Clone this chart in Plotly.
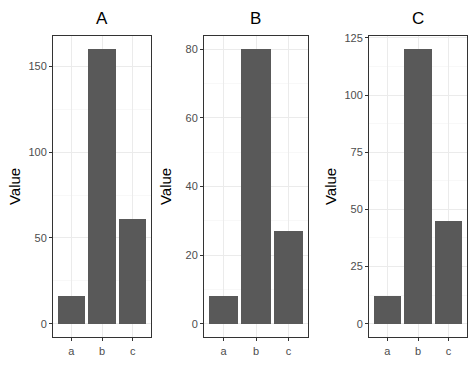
import plotly.graph_objects as go

categories = ["a", "b", "c"]
panels = ["A", "B", "C"]
values_A = [16, 160, 61]
values_B = [8, 80, 27]
values_C = [12, 120, 45]
series = [values_A, values_B, values_C]
y_dticks = [50, 20, 25]

W, H = 474, 379
x_px = [(53, 151), (204, 308), (369, 467)]
y_top, y_bot = 32, 337

def fx(px):
    return px / W

def fy(py):
    return 1 - py / H

fig = go.Figure()
font = "Liberation Sans, Arial, sans-serif"
for i, (name, vals) in enumerate(zip(panels, series)):
    n = "" if i == 0 else str(i + 1)
    fig.add_trace(go.Bar(x=categories, y=vals, width=0.9,
                         marker=dict(color="#595959", line=dict(width=0)),
                         xaxis="x" + n, yaxis="y" + n, showlegend=False))
    vmax = max(vals)
    pad = vmax * 0.05
    x0, x1 = x_px[i]
    fig.update_layout(**{
        "xaxis" + n: dict(domain=[fx(x0), fx(x1)], anchor="y" + n,
                          range=[-0.6, 2.6], type="category",
                          showline=True, mirror=True, linecolor="#333333", linewidth=1,
                          ticks="outside", ticklen=3, tickcolor="#333333",
                          tickfont=dict(size=11, color="#4d4d4d", family=font),
                          showgrid=True, gridcolor="#ebebeb", gridwidth=1,
                          zeroline=False, fixedrange=True),
        "yaxis" + n: dict(domain=[fy(y_bot), fy(y_top)], anchor="x" + n,
                          range=[-pad, vmax + pad], dtick=y_dticks[i], tick0=0,
                          showline=True, mirror=True, linecolor="#333333", linewidth=1,
                          ticks="outside", ticklen=3, tickcolor="#333333",
                          tickfont=dict(size=11, color="#4d4d4d", family=font),
                          showgrid=True, gridcolor="#ebebeb", gridwidth=1,
                          minor=dict(dtick=y_dticks[i] / 2, showgrid=True,
                                     gridcolor="#f3f3f3", gridwidth=0.6, ticks=""),
                          zeroline=False, fixedrange=True),
    })
    fig.add_annotation(text=name, x=fx((x0 + x1) / 2), y=fy(15),
                       xref="paper", yref="paper", showarrow=False,
                       font=dict(size=17, color="black", family=font),
                       xanchor="center", yanchor="middle")
    fig.add_annotation(text="Value", x=fx(x0 - 39), y=fy(185),
                       xref="paper", yref="paper", showarrow=False, textangle=-90,
                       font=dict(size=15, color="black", family=font),
                       xanchor="center", yanchor="middle")

fig.update_layout(width=W, height=H, margin=dict(l=0, r=0, t=0, b=0),
                  paper_bgcolor="white", plot_bgcolor="white", bargap=0,
                  hovermode=False)
fig.write_html("out.html", config={"displayModeBar": False, "staticPlot": True},
               post_script="document.body.style.margin='0';document.body.style.overflow='hidden';")
